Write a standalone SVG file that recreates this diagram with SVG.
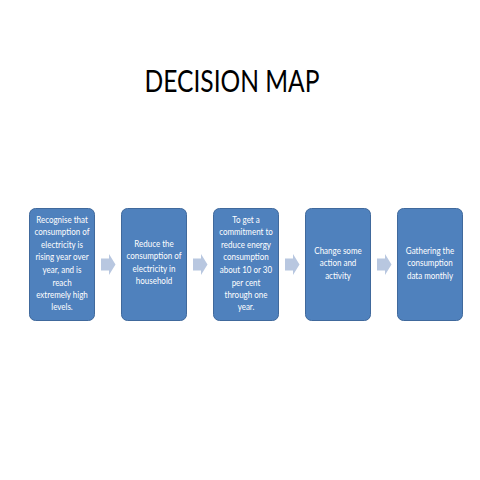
<svg xmlns="http://www.w3.org/2000/svg" width="480" height="480" viewBox="0 0 480 480">
<style>
.box{fill:#4f81bd;stroke:#40699c;stroke-width:1}
.t{font-family:Lato,"Liberation Sans",sans-serif;font-size:10px;fill:#fff;text-anchor:middle}
.arr{fill:#b8c7e0}
.title{font-family:Lato,"Liberation Sans",sans-serif;font-size:31px;fill:#000;text-anchor:middle}
</style>
<rect width="480" height="480" fill="#fff"/>
<text class="title" x="232" y="92" textLength="175" lengthAdjust="spacingAndGlyphs">DECISION MAP</text>
<g id="connectors">
<path class="arr" d="M101,258.5h8v-4.5l6.5,10.5l-6.5,10.5v-4.5h-8z"/>
<path class="arr" d="M193,258.5h8v-4.5l6.5,10.5l-6.5,10.5v-4.5h-8z"/>
<path class="arr" d="M285,258.5h8v-4.5l6.5,10.5l-6.5,10.5v-4.5h-8z"/>
<path class="arr" d="M377,258.5h8v-4.5l6.5,10.5l-6.5,10.5v-4.5h-8z"/>
</g>
<g id="node1">
<rect class="box" x="29.5" y="208.5" width="65" height="112" rx="6"/>
<text class="t" transform="translate(62,0) scale(0.8,1)"><tspan x="0" y="223">Recognise that</tspan><tspan x="0" y="235.5">consumption of</tspan><tspan x="0" y="248">electricity is</tspan><tspan x="0" y="260.5">rising year over</tspan><tspan x="0" y="273">year, and is</tspan><tspan x="0" y="285.5">reach</tspan><tspan x="0" y="298">extremely high</tspan><tspan x="0" y="310.5">levels.</tspan></text>
</g>
<g id="node2">
<rect class="box" x="121.5" y="208.5" width="65" height="112" rx="6"/>
<text class="t" transform="translate(154,0) scale(0.8,1)"><tspan x="0" y="247">Reduce the</tspan><tspan x="0" y="259.5">consumption of</tspan><tspan x="0" y="272">electricity in</tspan><tspan x="0" y="284.5">household</tspan></text>
</g>
<g id="node3">
<rect class="box" x="213.5" y="208.5" width="65" height="112" rx="6"/>
<text class="t" transform="translate(246,0) scale(0.8,1)"><tspan x="0" y="223">To get a</tspan><tspan x="0" y="235.5">commitment to</tspan><tspan x="0" y="248">reduce energy</tspan><tspan x="0" y="260.5">consumption</tspan><tspan x="0" y="273">about 10 or 30</tspan><tspan x="0" y="285.5">per cent</tspan><tspan x="0" y="298">through one</tspan><tspan x="0" y="310.5">year.</tspan></text>
</g>
<g id="node4">
<rect class="box" x="305.5" y="208.5" width="65" height="112" rx="6"/>
<text class="t" transform="translate(338,0) scale(0.8,1)"><tspan x="0" y="254">Change some</tspan><tspan x="0" y="266.5">action and</tspan><tspan x="0" y="279">activity</tspan></text>
</g>
<g id="node5">
<rect class="box" x="397.5" y="208.5" width="65" height="112" rx="6"/>
<text class="t" transform="translate(430,0) scale(0.8,1)"><tspan x="0" y="254">Gathering the</tspan><tspan x="0" y="266.5">consumption</tspan><tspan x="0" y="279">data monthly</tspan></text>
</g>
</svg>
